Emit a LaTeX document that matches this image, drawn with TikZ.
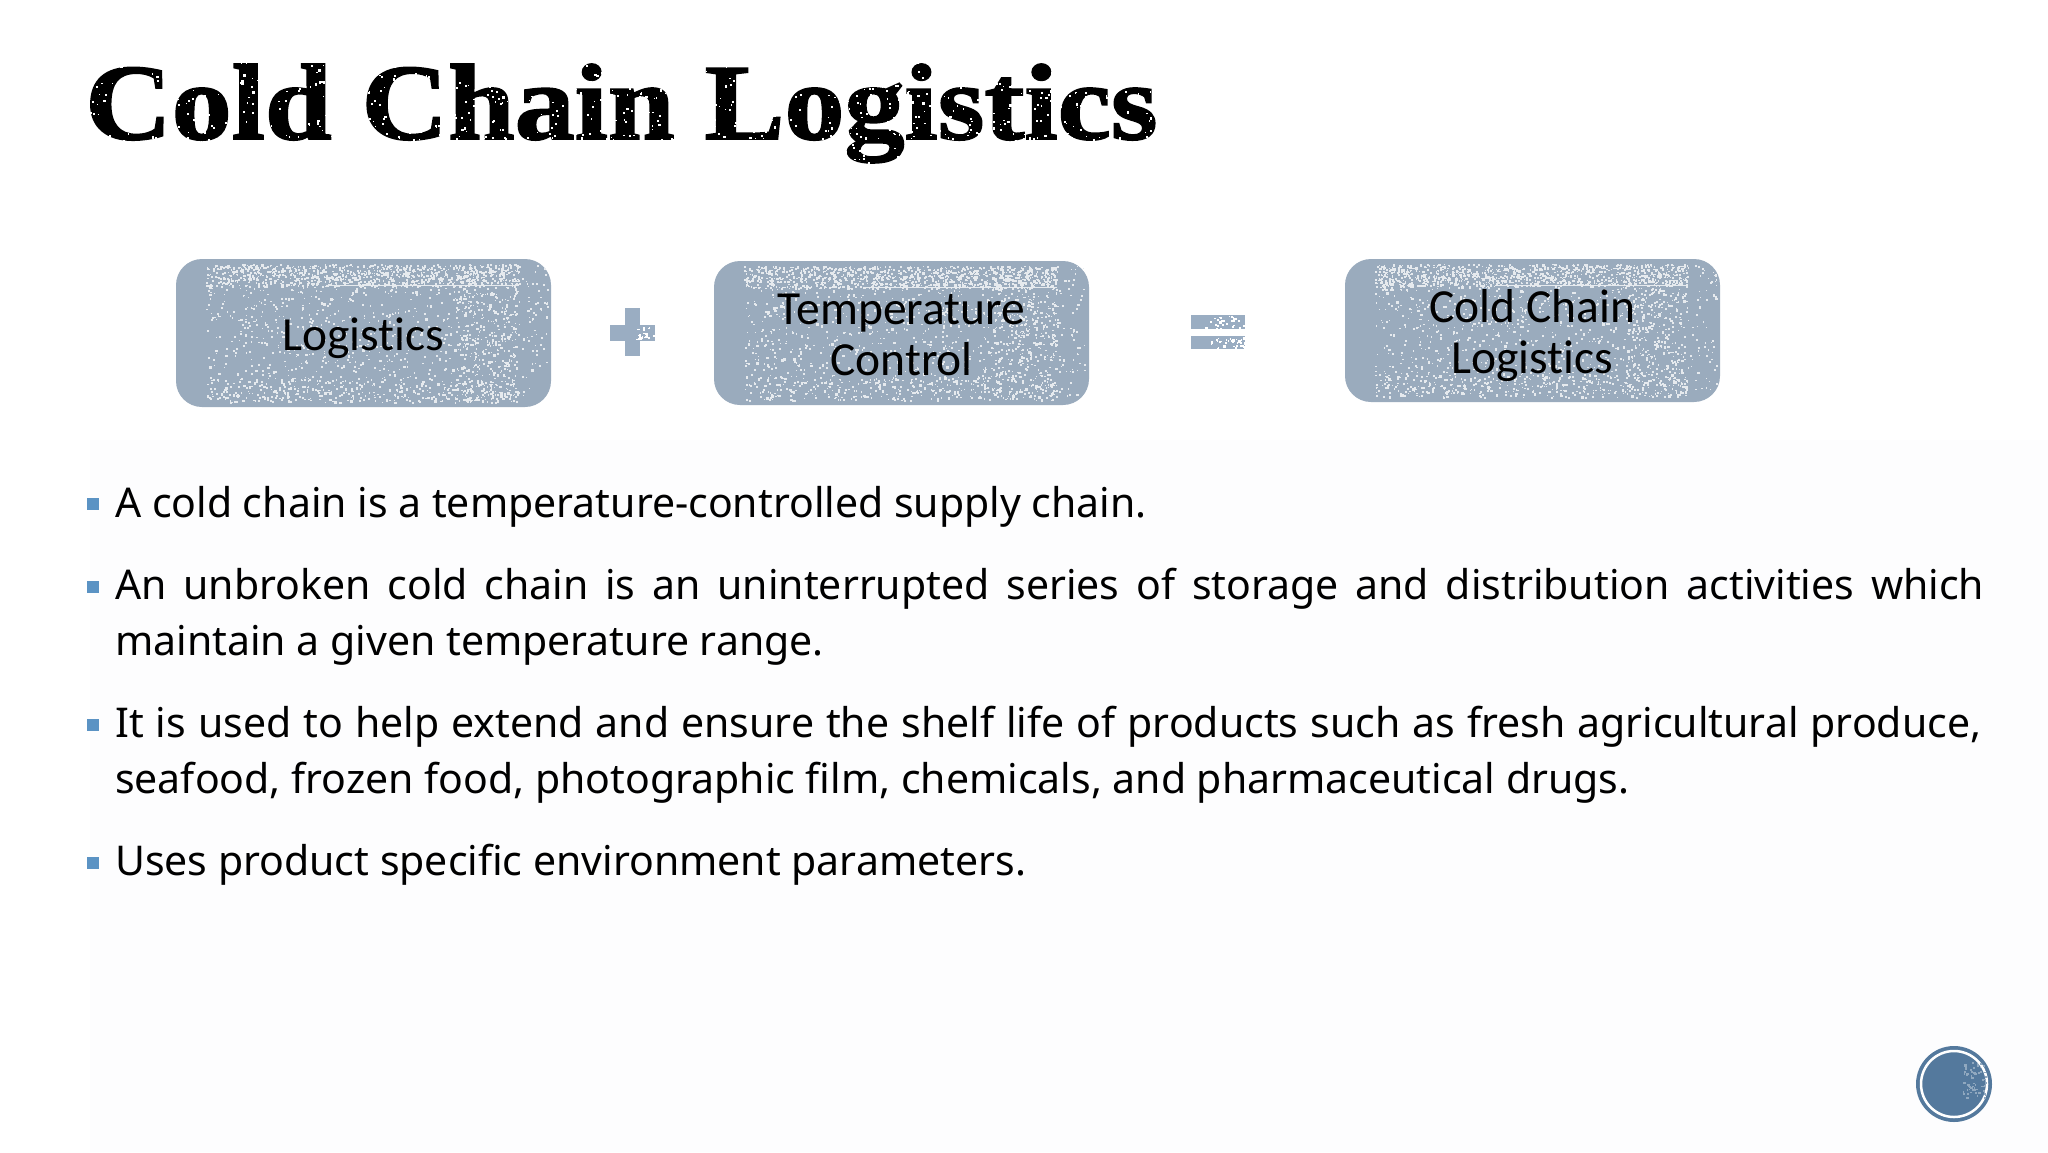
\documentclass[tikz,border=0pt]{standalone}
\usepackage{fontspec}
\setmainfont{Noto Sans}
\newfontfamily\titlefont[FakeBold=1.8,FakeStretch=1.11]{Liberation Serif}
\newfontfamily\boxfont[Ligatures=NoCommon]{Carlito}
\definecolor{boxblue}{HTML}{9AABBD}
\definecolor{opblue}{HTML}{9AADC2}
\definecolor{bullblue}{HTML}{5B93C4}
\definecolor{discblue}{HTML}{54799D}
\definecolor{paper}{HTML}{FDFDFE}
\colorlet{speckc}{white!75!boxblue}
\tikzset{
  x=1pt,y=-1pt,
  boxshape/.style={fill=boxblue,draw=none,rounded corners=26pt},
  boxtext/.style={font=\boxfont\fontsize{47.5}{51}\selectfont,align=center,text=black,anchor=center,inner sep=0pt},
  bodyline/.style={font=\fontsize{41}{46}\selectfont,anchor=base west,inner sep=0pt,text=black},
  bullet/.style={fill=bullblue,draw=none,minimum size=12pt,inner sep=0pt,shape=rectangle},
}
% \grain{count}{x0}{y0}{w}{h}{colour}: random specks, drawn as tiny squares
\newcommand{\grain}[6]{%
  \foreach \i in {1,...,#1}{%
    \pgfmathsetmacro{\gx}{#2+rnd*#4}%
    \pgfmathsetmacro{\gy}{#3+rnd*#5}%
    \pgfmathsetmacro{\gr}{1+rnd*1.4}%
    \fill[#6] (\gx,\gy) rectangle ++(\gr,\gr);
  }}
\newcommand{\speck}[4]{% x y w h
  \pgfmathsetmacro{\ix}{#1+30}\pgfmathsetmacro{\iw}{#3-62}%
  \pgfmathsetmacro{\iy}{#2+5}\pgfmathsetmacro{\ih}{#4-10}%
  \pgfmathsetmacro{\rx}{#1+#3-30}%
  \pgfmathsetmacro{\bx}{#1+#3-95}%
  \pgfmathsetmacro{\by}{#2+#4-28}%
  \grain{1000}{\ix}{\iy}{\iw}{\ih}{speckc}%
  \grain{800}{\ix}{\iy}{\iw}{22}{speckc}%
  \grain{300}{\bx}{\iy}{63}{\ih}{speckc}%
  \grain{250}{\ix}{\by}{\iw}{23}{speckc}%
  \grain{60}{\rx}{\iy}{26}{\ih}{speckc}%
  \pgfmathsetmacro{\ly}{#2+26}\pgfmathsetmacro{\lxa}{#1+150}\pgfmathsetmacro{\lxb}{#1+#3-32}%
  \draw[speckc,line width=0.9pt] (\lxa,\ly) -- (\lxb,\ly);
}
\begin{document}
\begin{tikzpicture}
\pgfmathsetseed{4711}
\useasboundingbox (0,0) rectangle (2048,1152);
\fill[white] (0,0) rectangle (2048,1152);
\fill[paper] (90,440) rectangle (2048,1152);
\node[anchor=base west,inner sep=0pt,font=\titlefont\bfseries\fontsize{108}{116}\selectfont] (title) at (85,139) {Cold Chain Logistics};
\grain{1300}{85}{55}{1075}{110}{white}

\fill[boxshape] (176,259) rectangle (551,407);
\speck{176}{259}{375}{148}
\node[boxtext] (b1) at (363.5,338) {Logistics};

\fill[boxshape] (714,261) rectangle (1089,405);
\speck{714}{261}{375}{144}
\node[boxtext] (b2) at (901.5,335) {Temperature\\Control};

\fill[boxshape] (1345,259) rectangle (1720,402);
\speck{1345}{259}{375}{143}
\node[boxtext] (b3) at (1532.5,336) {Cold Chain\\Logistics};

\fill[opblue] (625,308) rectangle (640,356);
\fill[opblue] (610,325) rectangle (655,341);
\grain{25}{636}{326}{18}{14}{white}
\fill[opblue] (1191,315) rectangle (1245,329);
\fill[opblue] (1191,336) rectangle (1245,349);
\grain{30}{1205}{316}{40}{12}{white}
\grain{40}{1210}{337}{35}{11}{white}

\node[bullet] (p1) at (93,504) {};
\node[bullet] (p2) at (93,587) {};
\node[bullet] (p3) at (93,725) {};
\node[bullet] (p4) at (93,863) {};
\node[bodyline] (l1) at (115,517) {A cold chain is a temperature-controlled supply chain.};
\node[bodyline] (l2) at (115,599) {\makebox[1869pt][s]{An unbroken cold chain is an uninterrupted series of storage and distribution activities which}};
\node[bodyline] (l3) at (115,655) {maintain a given temperature range.};
\node[bodyline] (l4) at (115,737) {\makebox[1866pt][s]{It is used to help extend and ensure the shelf life of products such as fresh agricultural produce,}};
\node[bodyline] (l5) at (115,793) {seafood, frozen food, photographic film, chemicals, and pharmaceutical drugs.};
\node[bodyline] (l6) at (115,875) {Uses product specific environment parameters.};

\fill[discblue] (1954,1084) circle[radius=38];
\draw[white,line width=2.5pt] (1954,1084) circle[radius=33];
\grain{70}{1962}{1062}{24}{36}{white!35!discblue}
\end{tikzpicture}
\end{document}
